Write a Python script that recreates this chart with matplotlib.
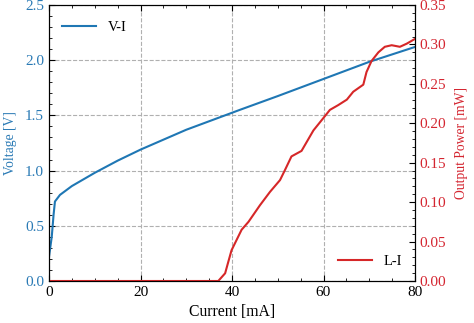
import matplotlib
matplotlib.use("Agg")
import matplotlib.pyplot as plt
from matplotlib.ticker import MultipleLocator, FormatStrFormatter

plt.rcParams['font.family'] = ['Liberation Serif', 'DejaVu Serif']
plt.rcParams['font.size'] = 11
plt.rcParams['mathtext.fontset'] = 'stix'

# V-I data
vi_current = [0, 0.6, 1.0, 1.3, 2.4, 5, 10, 15, 20, 30, 41.7, 50, 60, 70, 80]
vi_voltage = [0.22, 0.40, 0.60, 0.72, 0.78, 0.86, 0.98, 1.09, 1.19, 1.37, 1.55,
              1.675, 1.83, 1.985, 2.12]

# L-I data
li_current = [0, 10, 20, 30, 37.0, 38.5, 39.2, 39.9, 41.0, 42.1, 43.6, 46.1, 48.3, 50.5,
              51.6, 53.0, 55.2, 57.8, 60.3, 61.4, 63.2, 65.1, 66.5, 68.7, 69.4, 70.5,
              72.0, 73.4, 74.9, 76.7, 78.2, 80.0]
li_power = [0, 0, 0, 0, 0, 0.0098, 0.0245, 0.039, 0.052, 0.065, 0.075, 0.096, 0.113, 0.128,
            0.141, 0.158, 0.165, 0.191, 0.209, 0.217, 0.223, 0.230, 0.240, 0.249, 0.265,
            0.279, 0.290, 0.297, 0.299, 0.297, 0.301, 0.307]

blue = '#1f77b4'
red = '#d62728'
blue_txt = '#2a7ab5'
red_txt = '#d42530'

fig = plt.figure(figsize=(4.74, 3.23), dpi=100)
ax1 = fig.add_axes([49/474, 42/323, 366/474, 276/323])
ax2 = ax1.twinx()

l1, = ax1.plot(vi_current, vi_voltage, color=blue, lw=1.5, label='V-I')
l2, = ax2.plot(li_current, li_power, color=red, lw=1.5, label='L-I')

ax1.set_xlim(0, 80)
ax1.set_ylim(0, 2.5)
ax2.set_ylim(0, 0.35)

ax1.xaxis.set_major_locator(MultipleLocator(20))
ax1.xaxis.set_minor_locator(MultipleLocator(5))
ax1.yaxis.set_major_locator(MultipleLocator(0.5))
ax1.yaxis.set_minor_locator(MultipleLocator(0.1))
ax2.yaxis.set_major_locator(MultipleLocator(0.05))
ax2.yaxis.set_minor_locator(MultipleLocator(0.01))

ax1.tick_params(axis='x', which='both', direction='in', top=True, bottom=True)
ax1.tick_params(axis='y', which='both', direction='in', left=True, right=False,
                labelcolor=blue_txt)
ax1.tick_params(which='major', length=4, labelsize=11)
ax1.tick_params(which='minor', length=2.2)
ax2.tick_params(axis='y', which='both', direction='in', right=True, labelcolor=red_txt)
ax2.tick_params(which='major', length=4, labelsize=11)
ax2.tick_params(which='minor', length=2.2)
ax2.yaxis.set_major_formatter(FormatStrFormatter('%.2f'))
ax1.yaxis.set_major_formatter(FormatStrFormatter('%.1f'))

ax1.grid(True, which='major', ls='--', color='#b0b0b0', lw=0.8)
ax1.set_axisbelow(True)

ax1.set_xlabel('Current [mA]', fontsize=11.3, labelpad=4)
ax1.set_ylabel('Voltage [V]', color=blue_txt, fontsize=9.8, labelpad=6)
ax2.set_ylabel('Output Power [mW]', color=red_txt, fontsize=9.8, labelpad=6)

ax1.legend(handles=[l1], loc='upper left', frameon=False, handlelength=2.3,
           fontsize=10.5, bbox_to_anchor=(0.0, 0.99))
ax2.legend(handles=[l2], loc='lower right', frameon=False, handlelength=2.3,
           fontsize=10.5, bbox_to_anchor=(1.0, 0.0))

fig.savefig('out.png', dpi=100)
